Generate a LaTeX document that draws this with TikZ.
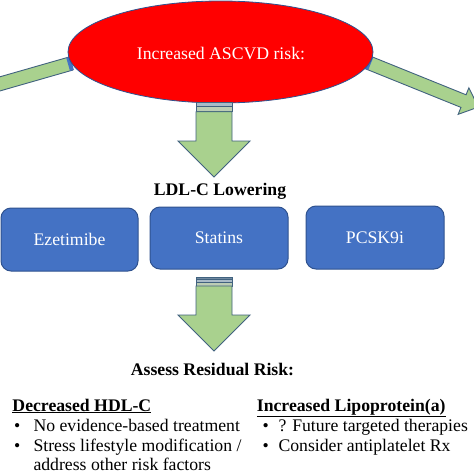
\documentclass[tikz,border=0pt]{standalone}
\usepackage{fontspec}
\setmainfont{Liberation Serif}
\usetikzlibrary{shapes.geometric}
\definecolor{agreen}{HTML}{A9D18E}
\definecolor{aedge}{HTML}{41627F}
\definecolor{bfill}{HTML}{4472C4}
\definecolor{bedge}{HTML}{2F528F}
\definecolor{stripeA}{HTML}{A9BBC8}
\definecolor{stripeB}{HTML}{BCCDB4}
\definecolor{stripeD}{HTML}{7089A0}
\begin{document}
\begin{tikzpicture}[x=1pt,y=-1pt,
  txt/.style={font=\fontsize{17.7}{20}\selectfont, inner sep=0pt},
  btxt/.style={font=\fontsize{17.7}{20}\selectfont\bfseries, inner sep=0pt},
  wtxt/.style={txt, text=white},
  blockarrow/.style={fill=agreen, draw=aedge, line width=0.9pt, line join=miter},
  stripe/.style={draw=aedge, line width=0.7pt},
  drugbox/.style={rectangle, rounded corners=10pt, fill=bfill, draw=bedge, line width=1pt,
    inner sep=0pt, font=\fontsize{17.7}{20}\selectfont, text=white}]
\useasboundingbox (0,0) rectangle (474,474);
\clip (0,0) rectangle (474,474);
\fill[white] (0,0) rectangle (474,474);

% side arrows (behind the ellipse)
\begin{scope}[shift={(71,63.5)}, rotate=196]
  \draw[blockarrow] (0,-6.8) -- (100,-6.8) -- (100,-14.5) -- (116,0) -- (100,14.5) -- (100,6.8) -- (0,6.8) -- cycle;
  \fill[bfill] (-1,-6.8) rectangle (3,6.8);
\end{scope}
\begin{scope}[shift={(368,62.5)}, rotate=-22]
  \draw[blockarrow] (0,-6.8) -- (103,-6.8) -- (103,-14.3) -- (119,0) -- (103,14.3) -- (103,6.8) -- (0,6.8) -- cycle;
  \fill[bfill] (-1,-6.8) rectangle (3,6.8);
\end{scope}

% ellipse
\node[ellipse, fill=red, draw=bedge, line width=0.8pt, minimum width=305pt, minimum height=102pt,
  inner sep=0pt] (risk) at (220.5,52) {};
\node[wtxt, anchor=base] (risktxt) at (221,59.5) {Increased ASCVD risk:};

% down arrow 1
\draw[stripe, fill=stripeA] (196,102.5) rectangle (232,106.7);
\draw[stripe, fill=stripeB] (196,106.7) rectangle (232,111.7);
\draw[blockarrow] (196,111.7) -- (232,111.7) -- (232,141) -- (250,141) -- (214,177) -- (178,141) -- (196,141) -- cycle;

\node[btxt, anchor=base] (ldl) at (220,195.5) {LDL-C Lowering};

% drug boxes
\node[drugbox, minimum width=137pt, minimum height=63pt] (eze) at (69.5,239.5) {Ezetimibe};
\node[drugbox, minimum width=138pt, minimum height=62pt] (sta) at (219,238) {Statins};
\node[drugbox, minimum width=138pt, minimum height=63pt] (pcsk) at (375,237.5) {PCSK9i};

% down arrow 2
\draw[stripe, fill=stripeD] (196,277) rectangle (232,279.5);
\draw[stripe, fill=stripeA] (196,279.5) rectangle (232,282);
\draw[stripe, fill=stripeB] (196,282) rectangle (232,286);
\draw[blockarrow] (196,286) -- (232,286) -- (232,315) -- (250,315) -- (214,351) -- (178,315) -- (196,315) -- cycle;

\node[btxt, anchor=base] (assess) at (212.5,375.7) {Assess Residual Risk:};

% left column
\node[btxt, anchor=base west] (hdl) at (12.3,411) {\underline{Decreased HDL-C}};
\node[txt, anchor=base west] (b1) at (14,431.7) {•};
\node[txt, anchor=base west] (l1) at (33.3,431.7) {No evidence-based treatment};
\node[txt, anchor=base west] (b2) at (14,451) {•};
\node[txt, anchor=base west] (l2) at (33.3,451) {Stress lifestyle modification /};
\node[txt, anchor=base west] (l3) at (33.3,470.5) {address other risk factors};

% right column
\node[btxt, anchor=base west] (lpa) at (256.7,411) {\underline{Increased Lipoprotein(a)}};
\node[txt, anchor=base west] (b3) at (262.5,431.7) {•};
\node[txt, anchor=base west] (r1) at (278.3,431.7) {? Future targeted therapies};
\node[txt, anchor=base west] (b4) at (262.5,451) {•};
\node[txt, anchor=base west] (r2) at (278.3,451) {Consider antiplatelet Rx};
\end{tikzpicture}
\end{document}
